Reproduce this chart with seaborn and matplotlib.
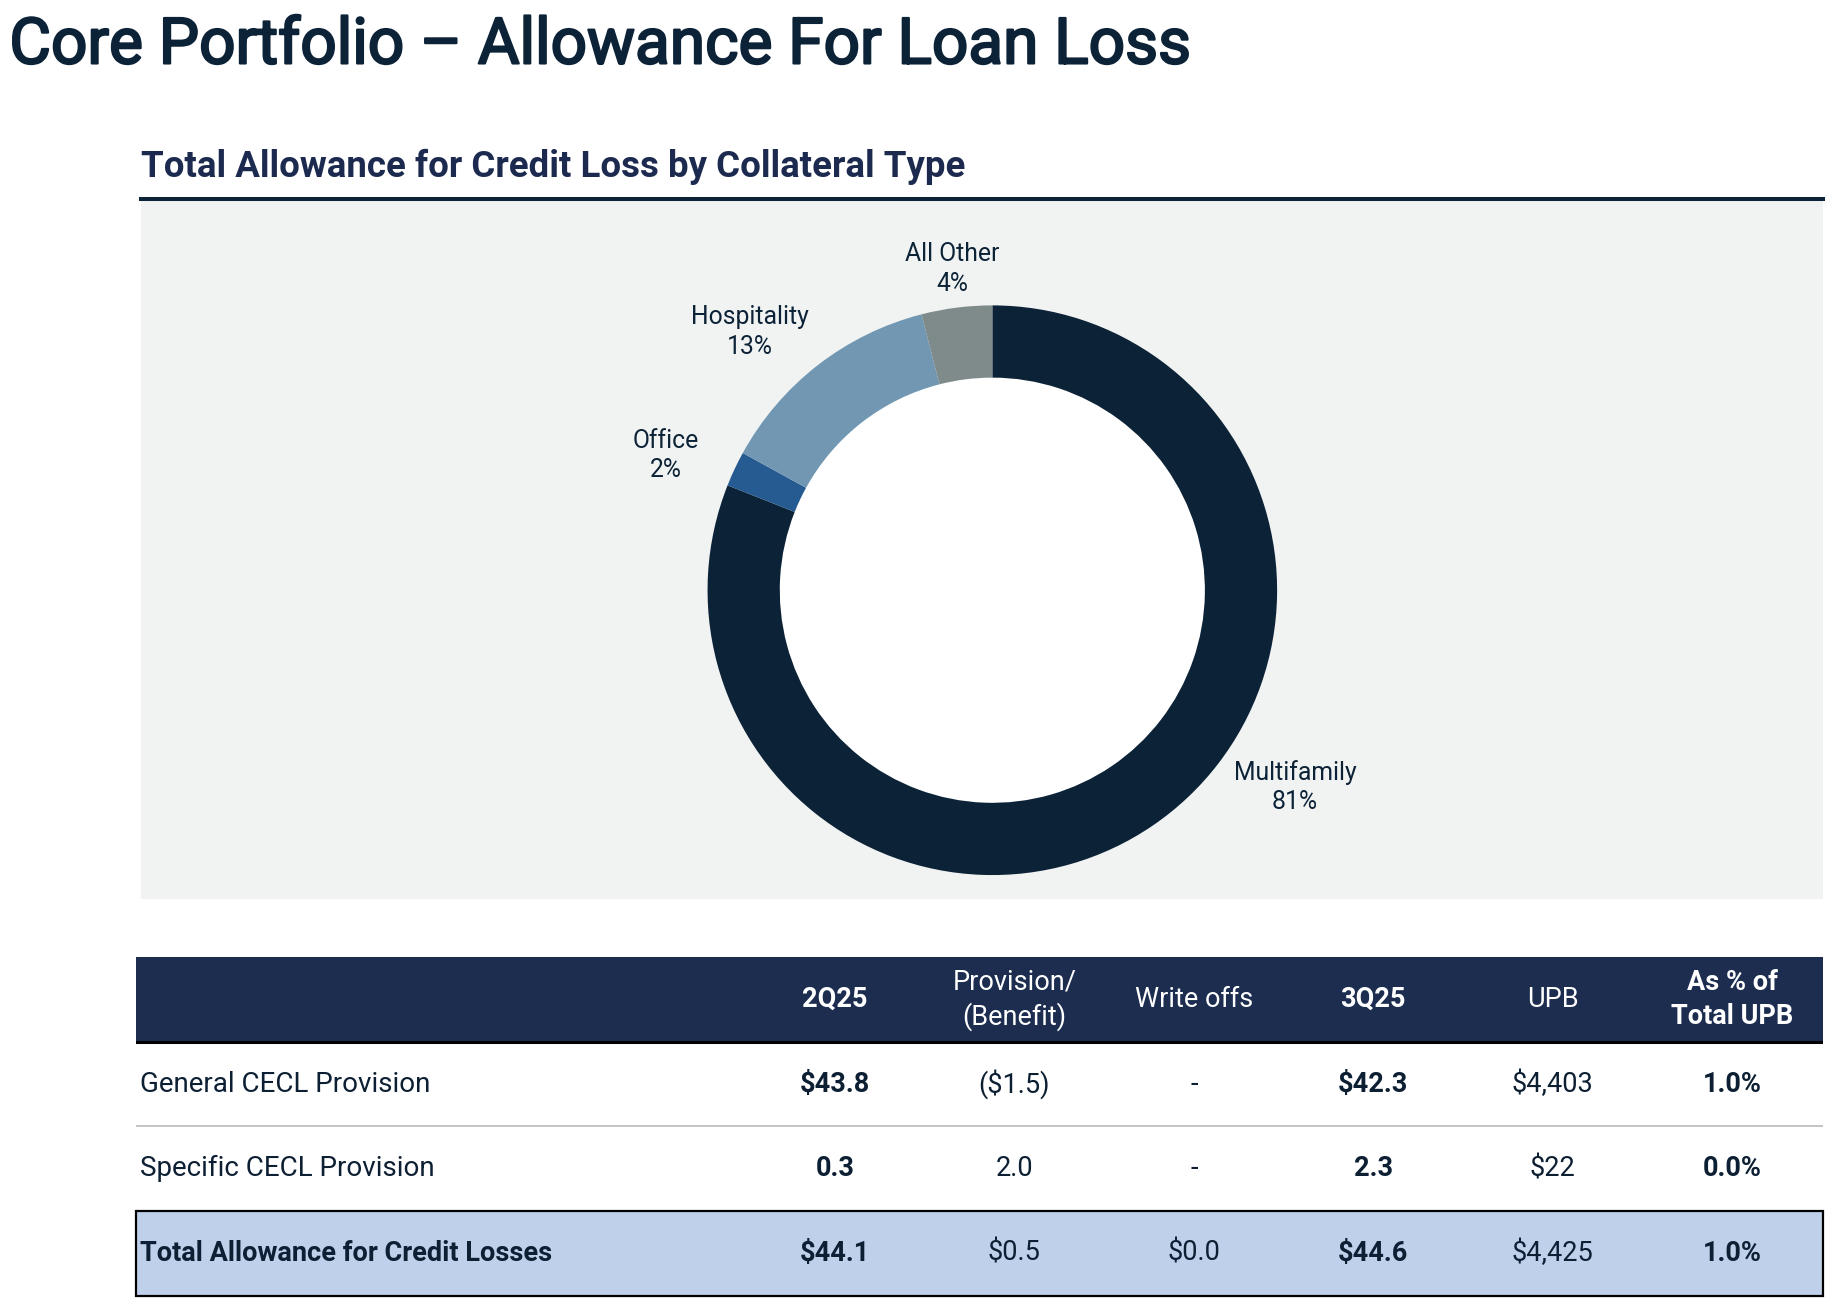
import matplotlib
matplotlib.use("Agg")
import numpy as np
import matplotlib.pyplot as plt
import matplotlib.patheffects as pe
import seaborn as sns
from matplotlib.patches import Circle, Rectangle

# ---------------------------
# Data
# ---------------------------
segments = ["Multifamily", "Office", "Hospitality", "All Other"]
shares = [81, 2, 13, 4]

columns = ["2Q25", "Provision/\n(Benefit)", "Write offs", "3Q25", "UPB", "As % of\nTotal UPB"]
row_labels = ["General CECL Provision", "Specific CECL Provision",
              "Total Allowance for Credit Losses"]
col_2q25 = ["$43.8", "0.3", "$44.1"]
col_provision = ["($1.5)", "2.0", "$0.5"]
col_writeoffs = ["-", "-", "$0.0"]
col_3q25 = ["$42.3", "2.3", "$44.6"]
col_upb = ["$4,403", "$22", "$4,425"]
col_pct = ["1.0%", "0.0%", "1.0%"]
bold_cols = [True, False, False, True, False, True]

# ---------------------------
# Style
# ---------------------------
sns.set_theme(style="white")
plt.rcParams['font.family'] = ['Roboto', 'DejaVu Sans']

seg_colors = ["#0c2237", "#265b91", "#7197b3", "#7f8b8b"]
navy = "#0c2237"
header_bg = "#1c2d50"
total_bg = "#bed0ea"
panel_bg = "#f1f3f2"

# label placement (angle in degrees, distance in radius units)
label_angle = [-33, 157.6, 133.2, 97.1]
label_dist = [1.268, 1.240, 1.245, 1.137]

GW, GH = 1560, 1117  # layout grid


def fx(x):
    return x / GW


def fy(y):
    return 1 - y / GH


fig = plt.figure(figsize=(18.32, 13.12), dpi=100)
fig.patch.set_facecolor("white")

# ---------------------------
# Titles
# ---------------------------
# regular weight with a thin stroke -> medium look
fig.text(fx(8), fy(54), "Core Portfolio \u2013 Allowance For Loan Loss",
         fontsize=46, fontweight="normal", color=navy, va="baseline", ha="left",
         path_effects=[pe.withStroke(linewidth=1.6, foreground=navy)])
fig.text(fx(120), fy(151), "Total Allowance for Credit Loss by Collateral Type",
         fontsize=26.4, fontweight="bold", color="#1b2a4e", va="baseline", ha="left")

# ---------------------------
# Donut panel
# ---------------------------
ax = fig.add_axes([fx(120), fy(765), fx(1552) - fx(120), fy(169) - fy(765)])
pw, ph = 1552 - 120, 765 - 169
cx, cy = 845 - 120, 765 - 502.5
r_out, r_in = 242.5, 181

wedges, _ = ax.pie(shares, colors=seg_colors, startangle=90, counterclock=False,
                   radius=r_out, center=(cx, cy), frame=True,
                   wedgeprops=dict(width=r_out - r_in, linewidth=0))
ax.add_patch(Circle((cx, cy), r_in, facecolor="white", edgecolor="none", zorder=0))

for name, val, ang, d in zip(segments, shares, label_angle, label_dist):
    a = np.deg2rad(ang)
    ax.text(cx + d * r_out * np.cos(a), cy + d * r_out * np.sin(a),
            f"{name}\n{val}%", ha="center", va="center", fontsize=17.8,
            color=navy, linespacing=1.3)

ax.set_xlim(0, pw)
ax.set_ylim(0, ph)
ax.set_aspect("auto")
ax.set_facecolor(panel_bg)
ax.set_xticks([])
ax.set_yticks([])
for side in ["left", "right", "bottom"]:
    ax.spines[side].set_visible(False)
ax.spines["top"].set_color(navy)
ax.spines["top"].set_linewidth(2.9)

# ---------------------------
# Table
# ---------------------------
tax = fig.add_axes([fx(116), fy(1103), fx(1552) - fx(116), fy(815) - fy(1103)])
x0, x1 = -2.894, 6.504
tax.set_xlim(x0, x1)
tax.set_ylim(3.5, -0.5)
tax.axis("off")

tax.axhspan(-0.5, 0.5, color=header_bg, zorder=0)
tax.axhline(0.5, color="black", lw=2.2, zorder=2)
tax.axhline(1.5, color="#bfbfbf", lw=1.3, zorder=2)
tax.add_patch(Rectangle((x0, 2.5), x1 - x0, 1.0, facecolor=total_bg,
                        edgecolor="black", lw=1.6, clip_on=False, zorder=1))

table_cols = [col_2q25, col_provision, col_writeoffs, col_3q25, col_upb, col_pct]
fs = 19.5
text_color = "#0d1f33"

for j, (head, bold) in enumerate(zip(columns, bold_cols)):
    tax.text(j + 1, 0, head, ha="center", va="center", fontsize=fs,
             color="white", fontweight="bold" if bold else "normal",
             linespacing=1.3, zorder=3)

for i, lab in enumerate(row_labels):
    tax.text(x0 + 0.02, i + 1, lab, ha="left", va="center",
             fontsize=fs if i == 2 else fs + 0.5,
             color=text_color, fontweight="bold" if i == 2 else "normal", zorder=3)
    for j, col in enumerate(table_cols):
        tax.text(j + 1, i + 1, col[i], ha="center", va="center", fontsize=fs,
                 color=text_color, fontweight="bold" if bold_cols[j] else "normal",
                 zorder=3)

fig.savefig("out.png", dpi=100, facecolor="white")
